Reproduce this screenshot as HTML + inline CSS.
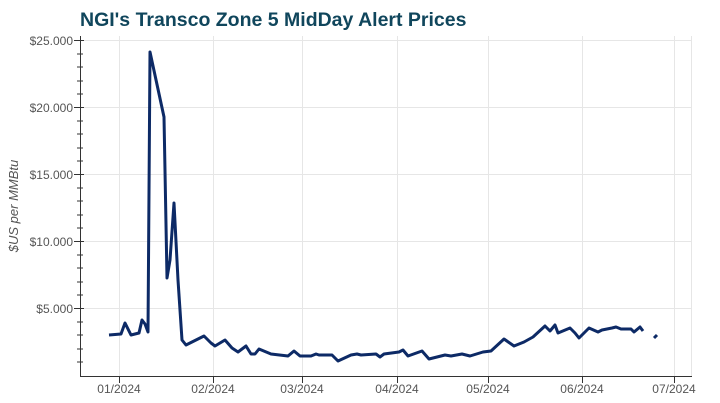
<!DOCTYPE html>
<html><head><meta charset="utf-8"><style>
html,body{margin:0;padding:0;background:#fff;width:720px;height:403px;overflow:hidden}
text{font-family:"Liberation Sans",sans-serif}
</style></head><body>
<svg width="720" height="403" viewBox="0 0 720 403" xmlns="http://www.w3.org/2000/svg">
<text x="80" y="26" font-size="19.5" font-weight="bold" fill="#10465c">NGI's Transco Zone 5 MidDay Alert Prices</text>
<g stroke="#e6e6e6" stroke-width="1">
<line x1="81" x2="692" y1="40.5" y2="40.5"/><line x1="81" x2="692" y1="107.5" y2="107.5"/><line x1="81" x2="692" y1="174.5" y2="174.5"/><line x1="81" x2="692" y1="241.5" y2="241.5"/><line x1="81" x2="692" y1="308.5" y2="308.5"/>
<line x1="119.5" x2="119.5" y1="36" y2="376"/><line x1="213.5" x2="213.5" y1="36" y2="376"/><line x1="302.5" x2="302.5" y1="36" y2="376"/><line x1="397.5" x2="397.5" y1="36" y2="376"/><line x1="488.5" x2="488.5" y1="36" y2="376"/><line x1="582.5" x2="582.5" y1="36" y2="376"/><line x1="674.5" x2="674.5" y1="36" y2="376"/><line x1="691.5" x2="691.5" y1="36" y2="376"/>
</g>
<g stroke="#333" stroke-width="1">
<line x1="80.5" x2="80.5" y1="36" y2="376"/>
<line x1="80" x2="692" y1="376.5" y2="376.5"/>
</g>
<g stroke="#333" stroke-width="1" id="yt"></g>
<g font-size="12" fill="#555" text-anchor="end">
<text x="73" y="45">$25.000</text><text x="73" y="112">$20.000</text><text x="73" y="179">$15.000</text><text x="73" y="246">$10.000</text><text x="73" y="313">$5.000</text>
</g>
<g font-size="12" fill="#555" text-anchor="middle">
<text x="119" y="393">01/2024</text><text x="213" y="393">02/2024</text><text x="302" y="393">03/2024</text><text x="397" y="393">04/2024</text><text x="488" y="393">05/2024</text><text x="582" y="393">06/2024</text><text x="674" y="393">07/2024</text>
</g>
<g stroke="#333" stroke-width="1">
<line x1="119.5" x2="119.5" y1="376" y2="383"/><line x1="213.5" x2="213.5" y1="376" y2="383"/><line x1="302.5" x2="302.5" y1="376" y2="383"/><line x1="397.5" x2="397.5" y1="376" y2="383"/><line x1="488.5" x2="488.5" y1="376" y2="383"/><line x1="582.5" x2="582.5" y1="376" y2="383"/><line x1="674.5" x2="674.5" y1="376" y2="383"/>
<line x1="74" x2="84" y1="40.5" y2="40.5"/><line x1="74" x2="84" y1="107.5" y2="107.5"/><line x1="74" x2="84" y1="174.5" y2="174.5"/><line x1="74" x2="84" y1="241.5" y2="241.5"/><line x1="74" x2="84" y1="308.5" y2="308.5"/>
<path d="M77 54h6M77 67h6M77 81h6M77 94h6M77 121h6M77 134h6M77 148h6M77 161h6M77 188h6M77 201h6M77 215h6M77 228h6M77 255h6M77 268h6M77 282h6M77 295h6M77 322h6M77 335h6M77 349h6M77 362h6"/>
</g>
<text transform="translate(18,206) rotate(-90)" font-size="13" font-style="italic" fill="#555" text-anchor="middle">$US per MMBtu</text>
<g fill="none" stroke="#0d2a66" stroke-width="3" stroke-linejoin="round">
<polyline points="109,335 121,334 125,323 131,335 139,333 142,320 145,324 148,332 150,52 164,117 167,278 170,260 174,203 178,280 182,340 186,345 204,336 211,343 215,346 225,340 232,348 238,352 246,346 251,354 255,354 259,349 271,354 288,356 294,351 300,356 311,356 316,354 319,355 332,355 338,361 351,355 357,354 361,355 376,354 380,357 384,354 399,352 403,350 408,356 422,351 429,359 445,355 451,356 462,354 470,356 483,352 491,351 504,339 514,346 524,342 533,337 545,326 550,331 555,325 558,333 570,328 575,333 579,338 589,328 598,332 602,330 612,328 616,327 621,329 631,329 634,332 640,327 643,331"/>
<polyline points="654,338 657,335"/>
</g>
</svg>
</body></html>
